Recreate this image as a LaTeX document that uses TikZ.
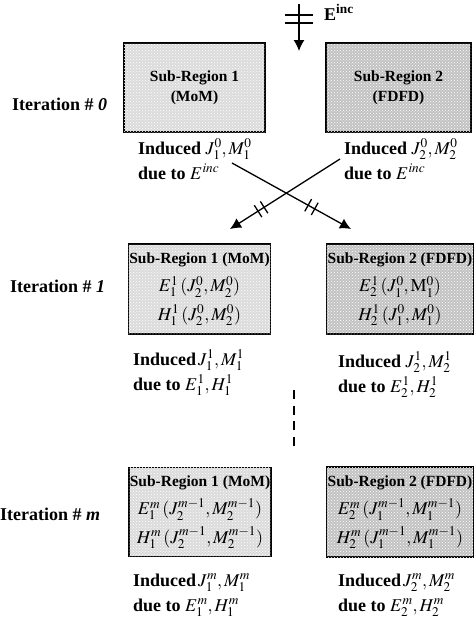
\documentclass[tikz,border=0pt]{standalone}
\usepackage{amsmath}
\usepackage{mathptmx}
\usepackage{fontspec}
\setmainfont{Liberation Serif}
\usetikzlibrary{patterns, arrows.meta, calc}

\newcommand{\fld}[1]{{\fontsize{18}{26.5}\selectfont$#1$}}

\tikzset{
  region/.style={draw, line width=1.4pt, inner sep=1pt, align=center,
    minimum width=141pt, minimum height=89pt, font=\fontsize{15.5}{26.5}\selectfont},
  mom/.style={region, fill=gray!28, postaction={pattern=crosshatch dots, pattern color=white}},
  fdfd/.style={region, fill=gray!48, postaction={pattern=crosshatch dots, pattern color=white}},
  induced/.style={anchor=base west, align=left, inner sep=0pt, font=\fontsize{18}{25}\selectfont\bfseries},
  iterlabel/.style={anchor=base west, inner sep=0pt, font=\fontsize{18}{20}\selectfont\bfseries},
  coupling/.style={line width=1.3pt, -{Latex[length=11pt,width=11pt]}},
  bar/.style={line width=1.3pt}
}

\begin{document}
\begin{tikzpicture}[x=1pt, y=-1pt]
    \useasboundingbox (0,0) rectangle (474,619);

    % Incident field
    \coordinate (inc top) at (299,4);
    \coordinate (inc tip) at (299,51);
    \draw[coupling] (inc top) -- (inc tip);
    \draw[bar] ($(inc top)+(-14,11)$) -- ($(inc top)+(14,11)$);
    \draw[bar] ($(inc top)+(-14,19)$) -- ($(inc top)+(14,19)$);
    \node[anchor=base west, inner sep=0pt, font=\fontsize{18}{20}\selectfont] (einc) at (324,20) {\textbf{E}$^{\textbf{inc}}$};

    % Iteration 0
    \node[iterlabel] (it0) at (12,110) {Iteration \# \textit{0}};
    \node[mom, font=\fontsize{15.5}{20}\selectfont\bfseries] (r1a) at (194.5,87.5) {Sub-Region 1\\(MoM)};
    \node[fdfd, minimum width=145pt, font=\fontsize{15.5}{20}\selectfont\bfseries] (r2a) at (398.5,87.5) {Sub-Region 2\\(FDFD)};
    \node[induced] (ind1a) at (138,179) {Induced $J_1^0,M_1^0$\\due to $E^{inc}$};
    \node[induced] (ind2a) at (344,179) {Induced $J_2^0,M_2^0$\\due to $E^{inc}$};

    % Exchange of the induced sources
    \coordinate (from1) at (232,163);
    \coordinate (to2) at (351,229);
    \coordinate (from2) at (340,159);
    \coordinate (to1) at (230,229);
    \draw[coupling] (from1) -- (to2);
    \draw[coupling] (from2) -- (to1);
    \foreach \t in {0.64,0.695} {
        \draw[bar] ($(from1)!\t!(to2)!7pt!90:(to2)$) -- ($(from1)!\t!(to2)!7pt!-90:(to2)$);
    }
    \foreach \t in {0.69,0.745} {
        \draw[bar] ($(from2)!\t!(to1)!7pt!90:(to1)$) -- ($(from2)!\t!(to1)!7pt!-90:(to1)$);
    }

    % Iteration 1
    \node[iterlabel] (it1) at (10,292) {Iteration \# \textit{1}};
    \node[mom, minimum height=90pt] (r1b) at (199.5,289) {\textbf{Sub-Region 1 (MoM)}\\[2pt]
        \fld{E_1^1\,(J_2^0,M_2^0)}\\[2pt] \fld{H_1^1\,(J_2^0,M_2^0)}};
    \node[fdfd, minimum width=144pt, minimum height=90pt] (r2b) at (400,289) {\textbf{Sub-Region 2 (FDFD)}\\[2pt]
        \fld{E_2^1\,(J_1^0,\mathrm{M}_1^0)}\\[2pt] \fld{H_2^1\,(J_1^0,M_1^0)}};
    \node[induced] (ind1b) at (133,390) {Induced$\,J_1^1,M_1^1$\\due to $E_1^1,H_1^1$};
    \node[induced] (ind2b) at (338,392) {Induced $J_2^1,M_2^1$\\due to $E_2^1,H_2^1$};

    % Further iterations
    \coordinate (gap top) at (294,390);
    \coordinate (gap end) at (294,446);
    \draw[line width=2pt, dash pattern=on 9pt off 6.5pt] (gap top) -- (gap end);

    % Iteration m
    \node[iterlabel] (itm) at (0,520) {Iteration \# \textit{m}};
    \node[mom, minimum width=140pt] (r1m) at (200,512) {\textbf{Sub-Region 1 (MoM)}\\[2pt]
        \fld{E_1^m\,(J_2^{m-1},M_2^{m-1})}\\[2pt] \fld{H_1^m\,(J_2^{m-1},M_2^{m-1})}};
    \node[fdfd, minimum width=144pt, minimum height=90pt] (r2m) at (400,512) {\textbf{Sub-Region 2 (FDFD)}\\[2pt]
        \fld{E_2^m\,(J_1^{m-1},M_1^{m-1})}\\[2pt] \fld{H_2^m\,(J_1^{m-1},M_1^{m-1})}};
    \node[induced] (ind1m) at (133,611) {Induced$\,J_1^m,M_1^m$\\due to $E_1^m,H_1^m$};
    \node[induced] (ind2m) at (338,611) {Induced$\,J_2^m,M_2^m$\\due to $E_2^m,H_2^m$};
\end{tikzpicture}
\end{document}
